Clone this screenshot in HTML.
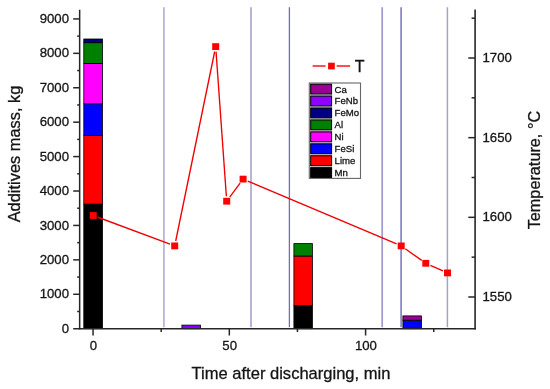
<!DOCTYPE html><html><head><meta charset="utf-8"><title>Chart</title>
<style>html,body{margin:0;padding:0;background:#fff}svg{display:block}text{font-family:"Liberation Sans",Arial,sans-serif;fill:#151515;stroke:#151515;stroke-width:0.3px}</style></head><body>
<svg width="550" height="389" viewBox="0 0 550 389">
<rect width="550" height="389" fill="#fff"/>
<line x1="163.9" y1="7.3" x2="163.9" y2="327.3" stroke="#bcb9d8" stroke-width="1.9"/>
<line x1="251.0" y1="7.3" x2="251.0" y2="327.3" stroke="#b4b1d2" stroke-width="1.9"/>
<line x1="289.4" y1="7.3" x2="289.4" y2="327.3" stroke="#726eb8" stroke-width="1.3"/>
<line x1="382.2" y1="7.3" x2="382.2" y2="327.3" stroke="#9f9bcc" stroke-width="1.7"/>
<line x1="401.1" y1="7.3" x2="401.1" y2="327.3" stroke="#8683c6" stroke-width="1.7"/>
<line x1="447.4" y1="7.3" x2="447.4" y2="327.3" stroke="#a5a2c6" stroke-width="1.5"/>
<rect x="83.8" y="204.10" width="18.70" height="124.60" fill="#000" stroke="#000" stroke-width="0.8"/>
<rect x="83.8" y="135.40" width="18.70" height="68.70" fill="#f00" stroke="#000" stroke-width="0.8"/>
<rect x="83.8" y="103.80" width="18.70" height="31.60" fill="#00f" stroke="#000" stroke-width="0.8"/>
<rect x="83.8" y="63.60" width="18.70" height="40.20" fill="#f0f" stroke="#000" stroke-width="0.8"/>
<rect x="83.8" y="42.70" width="18.70" height="20.90" fill="#008000" stroke="#000" stroke-width="0.8"/>
<rect x="83.8" y="39.00" width="18.70" height="3.70" fill="#000080" stroke="#000" stroke-width="0.8"/>
<rect x="181.9" y="325.10" width="18.70" height="3.60" fill="#8a00ff" stroke="#000" stroke-width="0.8"/>
<rect x="293.9" y="305.50" width="18.50" height="23.20" fill="#000" stroke="#000" stroke-width="0.8"/>
<rect x="293.9" y="256.00" width="18.50" height="49.50" fill="#f00" stroke="#000" stroke-width="0.8"/>
<rect x="293.9" y="243.60" width="18.50" height="12.40" fill="#008000" stroke="#000" stroke-width="0.8"/>
<rect x="402.9" y="320.20" width="18.60" height="8.50" fill="#00f" stroke="#000" stroke-width="0.8"/>
<rect x="402.9" y="315.90" width="18.60" height="4.30" fill="#9a0092" stroke="#000" stroke-width="0.8"/>
<g stroke="#262626" stroke-width="1.5" fill="none">
<line x1="79.65" y1="9.8" x2="79.65" y2="329.4"/>
<line x1="73.2" y1="328.7" x2="475.8" y2="328.7" stroke-width="1.6"/>
<line x1="475.1" y1="9.5" x2="475.1" y2="329.4" stroke-width="1.6"/>
<line x1="77.2" y1="311.49" x2="79.65" y2="311.49"/>
<line x1="73.2" y1="294.28" x2="79.65" y2="294.28"/>
<line x1="77.2" y1="277.07" x2="79.65" y2="277.07"/>
<line x1="73.2" y1="259.86" x2="79.65" y2="259.86"/>
<line x1="77.2" y1="242.65" x2="79.65" y2="242.65"/>
<line x1="73.2" y1="225.44" x2="79.65" y2="225.44"/>
<line x1="77.2" y1="208.23" x2="79.65" y2="208.23"/>
<line x1="73.2" y1="191.02" x2="79.65" y2="191.02"/>
<line x1="77.2" y1="173.81" x2="79.65" y2="173.81"/>
<line x1="73.2" y1="156.60" x2="79.65" y2="156.60"/>
<line x1="77.2" y1="139.39" x2="79.65" y2="139.39"/>
<line x1="73.2" y1="122.18" x2="79.65" y2="122.18"/>
<line x1="77.2" y1="104.97" x2="79.65" y2="104.97"/>
<line x1="73.2" y1="87.76" x2="79.65" y2="87.76"/>
<line x1="77.2" y1="70.55" x2="79.65" y2="70.55"/>
<line x1="73.2" y1="53.34" x2="79.65" y2="53.34"/>
<line x1="77.2" y1="36.13" x2="79.65" y2="36.13"/>
<line x1="73.2" y1="18.92" x2="79.65" y2="18.92"/>
<line x1="93.05" y1="328.7" x2="93.05" y2="335.5"/>
<line x1="161.19" y1="328.7" x2="161.19" y2="332"/>
<line x1="229.32" y1="328.7" x2="229.32" y2="335.5"/>
<line x1="297.46" y1="328.7" x2="297.46" y2="332"/>
<line x1="365.60" y1="328.7" x2="365.60" y2="335.5"/>
<line x1="433.74" y1="328.7" x2="433.74" y2="332"/>
<line x1="468.3" y1="297.00" x2="475" y2="297.00"/>
<line x1="471.6" y1="257.16" x2="475" y2="257.16"/>
<line x1="468.3" y1="217.33" x2="475" y2="217.33"/>
<line x1="471.6" y1="177.50" x2="475" y2="177.50"/>
<line x1="468.3" y1="137.66" x2="475" y2="137.66"/>
<line x1="471.6" y1="97.83" x2="475" y2="97.83"/>
<line x1="468.3" y1="58.00" x2="475" y2="58.00"/>
<line x1="471.6" y1="18.17" x2="475" y2="18.17"/>
</g>
<g font-size="13.2">
<text x="69.0" y="332.80" text-anchor="end">0</text>
<text x="69.0" y="298.38" text-anchor="end">1000</text>
<text x="69.0" y="263.96" text-anchor="end">2000</text>
<text x="69.0" y="229.54" text-anchor="end">3000</text>
<text x="69.0" y="195.12" text-anchor="end">4000</text>
<text x="69.0" y="160.70" text-anchor="end">5000</text>
<text x="69.0" y="126.28" text-anchor="end">6000</text>
<text x="69.0" y="91.86" text-anchor="end">7000</text>
<text x="69.0" y="57.44" text-anchor="end">8000</text>
<text x="69.0" y="23.02" text-anchor="end">9000</text>
<text x="93.40" y="349.9" text-anchor="middle">0</text>
<text x="229.67" y="349.9" text-anchor="middle">50</text>
<text x="365.95" y="349.9" text-anchor="middle">100</text>
<text x="482.5" y="300.85">1550</text>
<text x="482.5" y="221.18">1600</text>
<text x="482.5" y="141.51">1650</text>
<text x="482.5" y="61.85">1700</text>
</g>
<g font-size="16.4">
<text x="291.0" y="378.8" text-anchor="middle" font-size="16.55">Time after discharging, min</text>
<text transform="translate(20.2,154) rotate(-90)" text-anchor="middle">Additives mass, kg</text>
<text transform="translate(539.7,170.1) rotate(-90)" text-anchor="middle" font-size="16.25">Temperature, °C</text>
</g>
<g stroke="#f00000" stroke-width="1.35" fill="none" stroke-linecap="butt">
<line x1="97.88" y1="217.25" x2="170.02" y2="244.15"/>
<line x1="175.71" y1="241.00" x2="214.69" y2="51.50"/>
<line x1="216.05" y1="51.59" x2="226.35" y2="196.21"/>
<line x1="229.68" y1="197.18" x2="240.12" y2="183.12"/>
<line x1="247.71" y1="181.05" x2="396.59" y2="243.95"/>
<line x1="405.28" y1="248.79" x2="421.72" y2="260.41"/>
<line x1="430.37" y1="265.32" x2="442.93" y2="270.88"/>
</g>
<rect x="89.70" y="212.10" width="7" height="6.8" fill="#ff0000"/>
<rect x="171.20" y="242.50" width="7" height="6.8" fill="#ff0000"/>
<rect x="212.20" y="43.20" width="7" height="6.8" fill="#ff0000"/>
<rect x="223.20" y="197.80" width="7" height="6.8" fill="#ff0000"/>
<rect x="239.60" y="175.70" width="7" height="6.8" fill="#ff0000"/>
<rect x="397.70" y="242.50" width="7" height="6.8" fill="#ff0000"/>
<rect x="422.30" y="259.90" width="7" height="6.8" fill="#ff0000"/>
<rect x="444.00" y="269.50" width="7" height="6.8" fill="#ff0000"/>
<g stroke="#f00000" stroke-width="1.35"><line x1="312.6" y1="66" x2="325.6" y2="66"/><line x1="336.6" y1="66" x2="350.1" y2="66"/></g>
<rect x="328.1" y="62.7" width="6.7" height="6.7" fill="#ff0000"/>
<text x="354.7" y="71.6" font-size="16">T</text>
<rect x="309.3" y="83.0" width="51.2" height="95.4" fill="#fff" stroke="#666" stroke-width="1.1"/>
<rect x="310.2" y="83.9" width="21.8" height="93.8" fill="#b4b4b4"/>
<g font-size="9.6" stroke-width="0.15">
<rect x="310.7" y="84.20" width="20.9" height="9.7" fill="#9a0092" stroke="#000" stroke-width="1"/>
<text x="334.6" y="92.55">Ca</text>
<rect x="310.7" y="96.13" width="20.9" height="9.7" fill="#9000ff" stroke="#000" stroke-width="1"/>
<text x="334.6" y="104.48">FeNb</text>
<rect x="310.7" y="108.06" width="20.9" height="9.7" fill="#000080" stroke="#000" stroke-width="1"/>
<text x="334.6" y="116.41">FeMo</text>
<rect x="310.7" y="119.99" width="20.9" height="9.7" fill="#008000" stroke="#000" stroke-width="1"/>
<text x="334.6" y="128.34">Al</text>
<rect x="310.7" y="131.92" width="20.9" height="9.7" fill="#f0f" stroke="#000" stroke-width="1"/>
<text x="334.6" y="140.27">Ni</text>
<rect x="310.7" y="143.85" width="20.9" height="9.7" fill="#00f" stroke="#000" stroke-width="1"/>
<text x="334.6" y="152.20">FeSi</text>
<rect x="310.7" y="155.78" width="20.9" height="9.7" fill="#f00" stroke="#000" stroke-width="1"/>
<text x="334.6" y="164.13">Lime</text>
<rect x="310.7" y="167.71" width="20.9" height="9.7" fill="#000" stroke="#000" stroke-width="1"/>
<text x="334.6" y="176.06">Mn</text>
</g>
</svg></body></html>
